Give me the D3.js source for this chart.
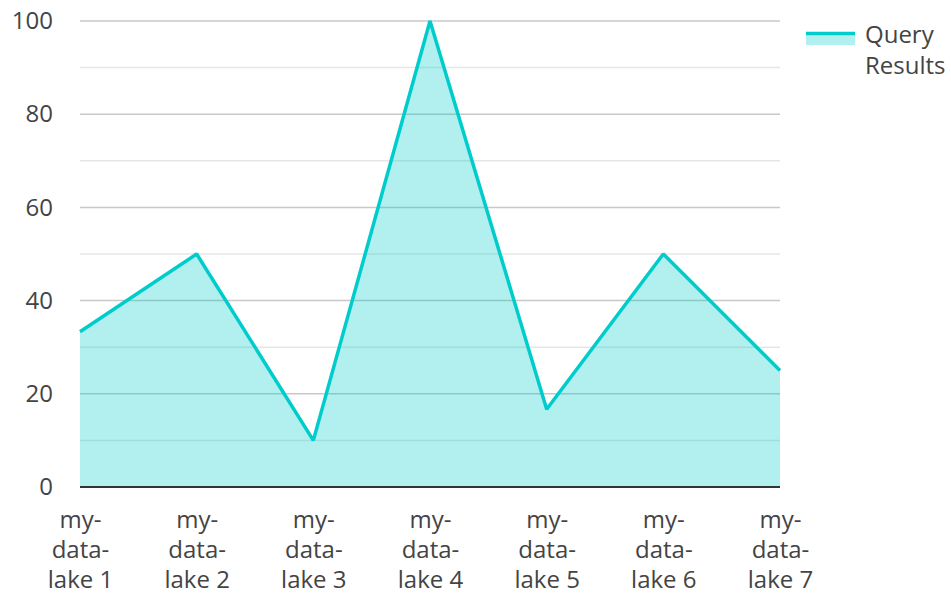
<!DOCTYPE html>
<html>
<head>
<meta charset="utf-8">
<script src="https://cdn.jsdelivr.net/npm/d3@7"></script>
<style>
  body { margin: 0; background: #fff; }
  text { font-family: "Open Sans", "Noto Sans", sans-serif; }
</style>
</head>
<body>
<div id="canvas"></div>
<script>
"use strict"

// data
let lakes = ["my-data-lake 1", "my-data-lake 2", "my-data-lake 3", "my-data-lake 4",
    "my-data-lake 5", "my-data-lake 6", "my-data-lake 7"];
let results = [33.3, 50, 10, 100, 16.7, 50, 25];
let majorTicks = [0, 20, 40, 60, 80, 100];
let minorTicks = [10, 30, 50, 70, 90];

let lineColor = "#00cccc";
let textColor = "#444";
let fontSize = 24;

let drawing = d3.select("#canvas")
    .append("svg")
    .attr("width", 951)
    .attr("height", 594);

let x = d3.scalePoint().domain(lakes).range([80, 780]);
let y = d3.scaleLinear().domain([0, 100]).range([487, 21]);

// grid lines
drawing.selectAll(".minor")
    .data(minorTicks)
    .enter().append("line")
    .attr("x1", 80).attr("x2", 780)
    .attr("y1", d => y(d)).attr("y2", d => y(d))
    .attr("stroke", "#e6e6e6")
    .attr("stroke-width", 1.5);
drawing.selectAll(".major")
    .data(majorTicks.filter(d => d > 0))
    .enter().append("line")
    .attr("x1", 80).attr("x2", 780)
    .attr("y1", d => y(d)).attr("y2", d => y(d))
    .attr("stroke", "#c8c8c8")
    .attr("stroke-width", 1.5);

// area + line
let area = d3.area()
    .x((d, i) => x(lakes[i]))
    .y0(y(0))
    .y1(d => y(d));
drawing.append("path")
    .attr("d", area(results))
    .attr("fill", lineColor)
    .attr("fill-opacity", 0.3);

let line = d3.line()
    .x((d, i) => x(lakes[i]))
    .y(d => y(d));
drawing.append("path")
    .attr("d", line(results))
    .attr("fill", "none")
    .attr("stroke", lineColor)
    .attr("stroke-width", 3.5)
    .attr("stroke-linejoin", "bevel");

// baseline
drawing.append("line")
    .attr("x1", 80).attr("x2", 780)
    .attr("y1", y(0)).attr("y2", y(0))
    .attr("stroke", "#333")
    .attr("stroke-width", 2);

// y axis labels
let yAxis = d3.axisLeft(y).tickValues(majorTicks).tickSize(0).tickPadding(0);
let yg = drawing.append("g")
    .attr("transform", "translate(53,0)")
    .call(yAxis);
yg.select(".domain").remove();
yg.selectAll("text")
    .attr("font-size", fontSize)
    .attr("fill", textColor)
    .style("font-family", "'Open Sans', 'Noto Sans', sans-serif");

// x axis labels, wrapped on three lines
let xAxis = d3.axisBottom(x).tickSize(0).tickPadding(0);
let xg = drawing.append("g")
    .attr("transform", "translate(0,500)")
    .call(xAxis);
xg.select(".domain").remove();
xg.selectAll("text").each(function (d) {
    let t = d3.select(this).text("")
        .attr("font-size", fontSize)
        .attr("fill", textColor)
        .attr("y", 0)
        .attr("dy", null)
        .style("font-family", "'Open Sans', 'Noto Sans', sans-serif");
    let parts = ["my-", "data-", d.replace("my-data-", "")];
    parts.forEach((p, i) => {
        t.append("tspan")
            .attr("x", 0)
            .attr("y", 28 + i * 30)
            .text(p);
    });
});

// legend
drawing.append("rect")
    .attr("x", 806).attr("y", 33)
    .attr("width", 49).attr("height", 12)
    .attr("fill", lineColor)
    .attr("fill-opacity", 0.3);
drawing.append("line")
    .attr("x1", 806).attr("x2", 855)
    .attr("y1", 33.5).attr("y2", 33.5)
    .attr("stroke", lineColor)
    .attr("stroke-width", 3.5);
drawing.append("text")
    .attr("x", 865).attr("y", 43)
    .attr("font-size", fontSize)
    .attr("fill", textColor)
    .text("Query");
drawing.append("text")
    .attr("x", 865).attr("y", 74)
    .attr("font-size", fontSize)
    .attr("fill", textColor)
    .text("Results");
</script>
</body>
</html>
